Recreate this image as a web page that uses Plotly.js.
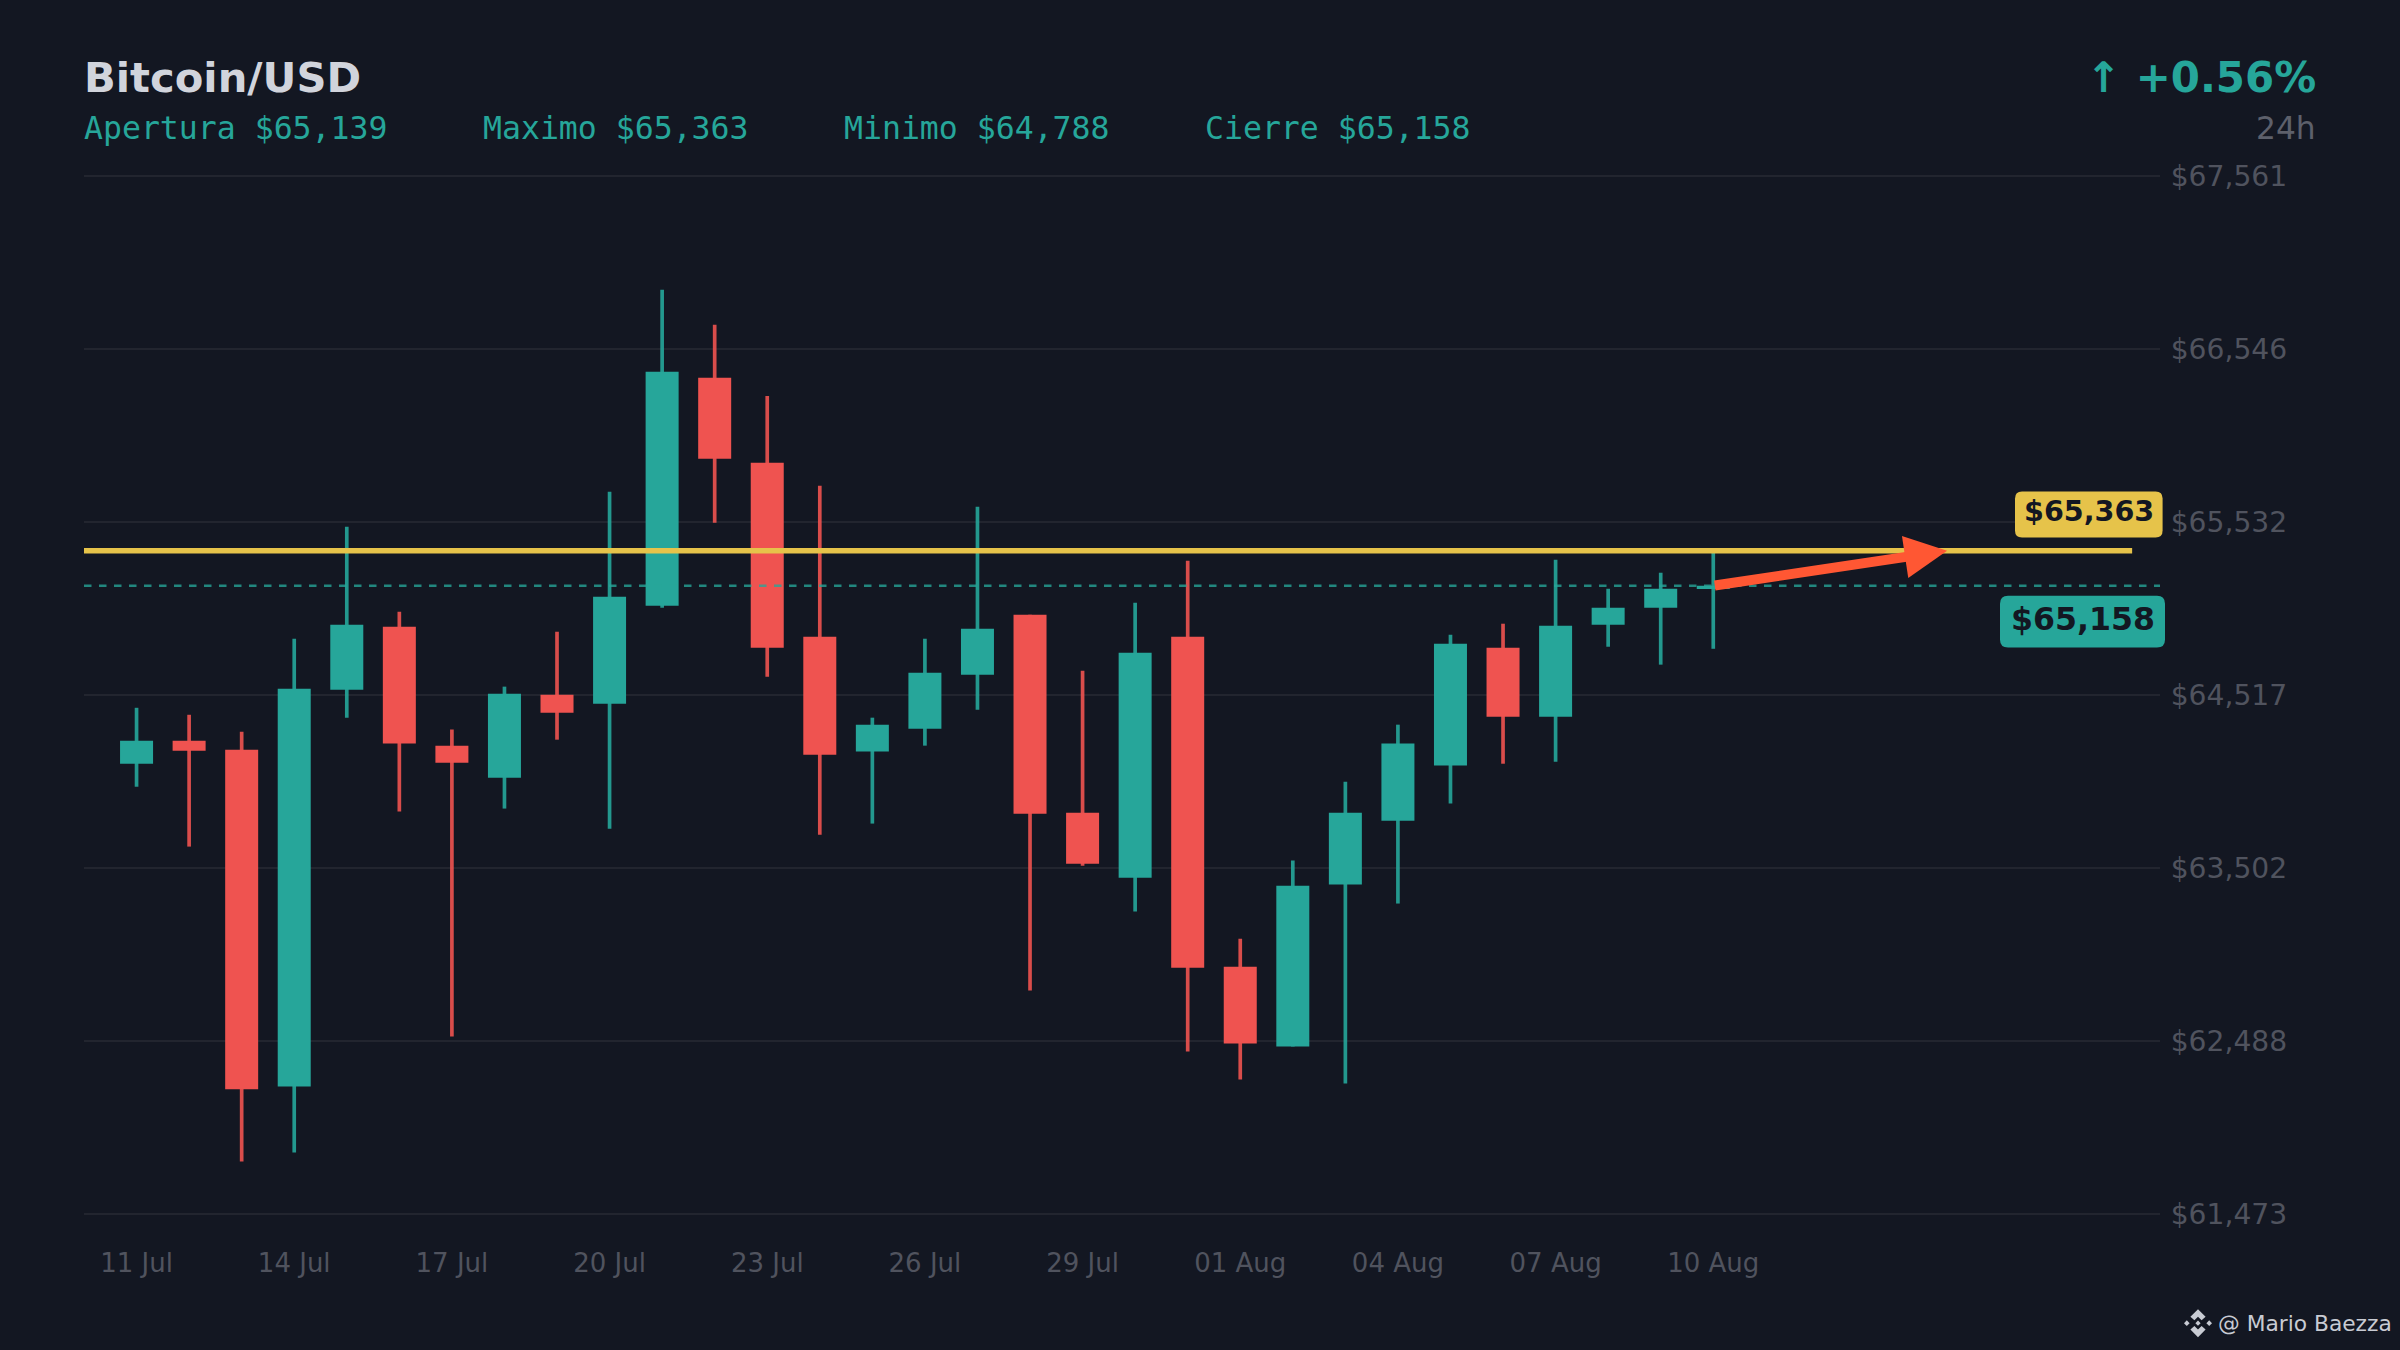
<!DOCTYPE html>
<html>
<head>
<meta charset="utf-8">
<script src="https://cdn.plot.ly/plotly-3.0.1.min.js"></script>
<style>html,body{margin:0;padding:0;background:#131722;}#chart{width:2400px;height:1350px;}</style>
</head>
<body>
<div id="chart"></div>
<script>
var dates = ["11 Jul","12 Jul","13 Jul","14 Jul","15 Jul","16 Jul","17 Jul","18 Jul","19 Jul","20 Jul","21 Jul","22 Jul","23 Jul","24 Jul","25 Jul","26 Jul","27 Jul","28 Jul","29 Jul","30 Jul","31 Jul","01 Aug","02 Aug","03 Aug","04 Aug","05 Aug","06 Aug","07 Aug","08 Aug","09 Aug","10 Aug"];
var opens  = [64114,64249,64196,62221,64548,64917,64220,64032,64519,64466,65040,66377,65879,64859,64185,64319,64636,64988,63827,63446,64859,62924,62455,63405,63780,64103,64794,64390,64929,65029,65139];
var closes = [64249,64190,62205,64554,64929,64232,64120,64525,64413,65093,66412,65902,64794,64167,64343,64648,64906,63821,63528,64765,62918,62473,63399,63827,64232,64818,64390,64923,65029,65140,65158];
var highs  = [64442,64401,64302,64847,65504,65005,64314,64566,64888,65709,66893,66688,66271,65744,64384,64847,65621,64988,64659,65058,65304,63088,63546,64009,64343,64870,64935,65310,65140,65234,65363];
var lows   = [63979,63628,61781,61834,64384,63834,62515,63851,64255,63733,65029,65527,64624,63698,63763,64220,64431,62784,63516,63247,62426,62262,62455,62239,63294,63880,64114,64126,64800,64695,64788];
var priceTicks = [61473,62488,63502,64517,65532,66546,67561];
var priceLabels = ["$61,473","$62,488","$63,502","$64,517","$65,532","$66,546","$67,561"];
var dayTickIdx = [0,3,6,9,12,15,18,21,24,27,30];
var maxPrice = 65363, lastPrice = 65158;

var UP="#26a69a", DOWN="#ef5350", GOLD="#e6c34a", BG="#131722", FONT="DejaVu Sans", MONO="DejaVu Sans Mono";
var idx = dates.map(function(_,i){return i;});
var colors = idx.map(function(i){return closes[i]>=opens[i]?UP:DOWN;});

// plot box in page pixels
var L=84,R=2160,T=172.1,B=1218.5,W=2400,H=1350;
function px(x){return (x-L)/(R-L);}
function py(y){return (B-y)/(B-T);}

function text(t,x,y,size,color,anchor,family,weight){
  return {text:t,xref:'paper',yref:'paper',x:px(x),y:py(y),xanchor:anchor,yanchor:'middle',showarrow:false,
    font:{family:family||FONT,size:size,color:color,weight:weight||400},borderpad:0,borderwidth:0};
}
function round(x0,y0,x1,y1,r,color){
  var c=function(x,y){return px(x)+','+py(y);};
  var p='M'+c(x0+r,y0)+' L'+c(x1-r,y0)+' Q'+c(x1,y0)+' '+c(x1,y0+r)+' L'+c(x1,y1-r)+' Q'+c(x1,y1)+' '+c(x1-r,y1)+
        ' L'+c(x0+r,y1)+' Q'+c(x0,y1)+' '+c(x0,y1-r)+' L'+c(x0,y0+r)+' Q'+c(x0,y0)+' '+c(x0+r,y0)+' Z';
  return {type:'path',xref:'paper',yref:'paper',path:p,fillcolor:color,line:{width:0},layer:'above'};
}
function poly(pts,cx,cy,color){
  var p=pts.map(function(q,i){return (i?'L':'M')+px(cx+q[0])+','+py(cy+q[1]);}).join(' ')+' Z';
  return {type:'path',xref:'paper',yref:'paper',path:p,fillcolor:color,line:{width:0},layer:'above'};
}

var wicks = {type:'bar',x:idx,base:lows,y:idx.map(function(i){return highs[i]-lows[i];}),width:0.07,
  marker:{color:colors,opacity:0.9,line:{width:0}},hoverinfo:'skip',showlegend:false};
var bodies = {type:'bar',x:idx,base:idx.map(function(i){return Math.min(opens[i],closes[i]);}),
  y:idx.map(function(i){return Math.abs(closes[i]-opens[i]);}),width:0.628,
  marker:{color:colors,line:{width:0}},showlegend:false,hoverinfo:'skip'};

var LOGO="#c8cbd3", lx=2198, ly=1323.7;
var shapes=[
  {type:'line',xref:'x',yref:'y',x0:-1,x1:37.97,y0:maxPrice,y1:maxPrice,line:{color:GOLD,width:5.5},layer:'above'},
  {type:'line',xref:'x',yref:'y',x0:-1,x1:38.5,y0:lastPrice,y1:lastPrice,line:{color:'rgba(38,166,154,0.78)',width:2.5,dash:'7.5px,7.5px'},layer:'above'},
  round(2015,491.7,2162.6,537.7,7,GOLD),
  round(2000,596,2165,647.7,8,UP),
  poly([[0,-14],[7.6,-6.4],[3.6,-2.9],[0,-6.4],[-3.6,-2.9],[-7.6,-6.4]],lx,ly,LOGO),
  poly([[0,14],[7.6,6.4],[3.6,2.9],[0,6.4],[-3.6,2.9],[-7.6,6.4]],lx,ly,LOGO),
  poly([[-14,0],[-11.2,-2.8],[-8.4,0],[-11.2,2.8]],lx,ly,LOGO),
  poly([[14,0],[11.2,-2.8],[8.4,0],[11.2,2.8]],lx,ly,LOGO),
  poly([[0,-2.6],[2.6,0],[0,2.6],[-2.6,0]],lx,ly,LOGO)
];

var annotations=[
  text("Bitcoin/USD",84,78,41.7,"#d1d4dc",'left',FONT,700),
  text("Apertura $65,139",84,128,31.5,UP,'left',MONO),
  text("Maximo $65,363",483,128,31.5,UP,'left',MONO),
  text("Minimo $64,788",844,128,31.5,UP,'left',MONO),
  text("Cierre $65,158",1205,128,31.5,UP,'left',MONO),
  text("↑ +0.56%",2316,78,41.9,UP,'right',FONT,700),
  text("24h",2316,128,31.3,"#5d606b",'right'),
  text("$65,363",2088.8,511.7,28.6,BG,'center',FONT,700),
  text("$65,158",2082.5,618.8,31.6,BG,'center',FONT,700),
  text("@ Mario Baezza",2392,1324,21.75,"#c8cbd3",'right'),
  {xref:'x',yref:'y',axref:'x',ayref:'y',x:34.45,y:maxPrice,ax:30,ay:lastPrice,text:'',showarrow:true,
   arrowhead:2,arrowsize:0.85,arrowwidth:10,arrowcolor:"#ff5733",standoff:0,startstandoff:0}
];

var layout={
  width:W,height:H,autosize:false,paper_bgcolor:BG,plot_bgcolor:BG,showlegend:false,barmode:'overlay',dragmode:false,
  margin:{l:L,r:W-R,t:T,b:H-B,pad:0},
  font:{family:FONT},
  xaxis:{type:'linear',range:[-1,38.5],tickmode:'array',tickvals:dayTickIdx,ticktext:dayTickIdx.map(function(i){return dates[i];}),
    showgrid:false,zeroline:false,showline:false,ticks:'outside',ticklen:21.5,tickcolor:BG,tickwidth:1,
    tickfont:{family:FONT,size:26,color:"#50535e"},tickangle:0,fixedrange:true},
  yaxis:{type:'linear',side:'right',range:[61450,67584],tickmode:'array',tickvals:priceTicks,ticktext:priceLabels,
    showgrid:true,gridcolor:"#22252f",gridwidth:2,zeroline:false,showline:false,ticks:'outside',ticklen:4,tickcolor:BG,tickwidth:1,
    tickfont:{family:FONT,size:28.2,color:"#50535e"},fixedrange:true},
  shapes:shapes,annotations:annotations
};
Plotly.newPlot('chart',[wicks,bodies],layout,{displayModeBar:false,staticPlot:true});
</script>
</body>
</html>
